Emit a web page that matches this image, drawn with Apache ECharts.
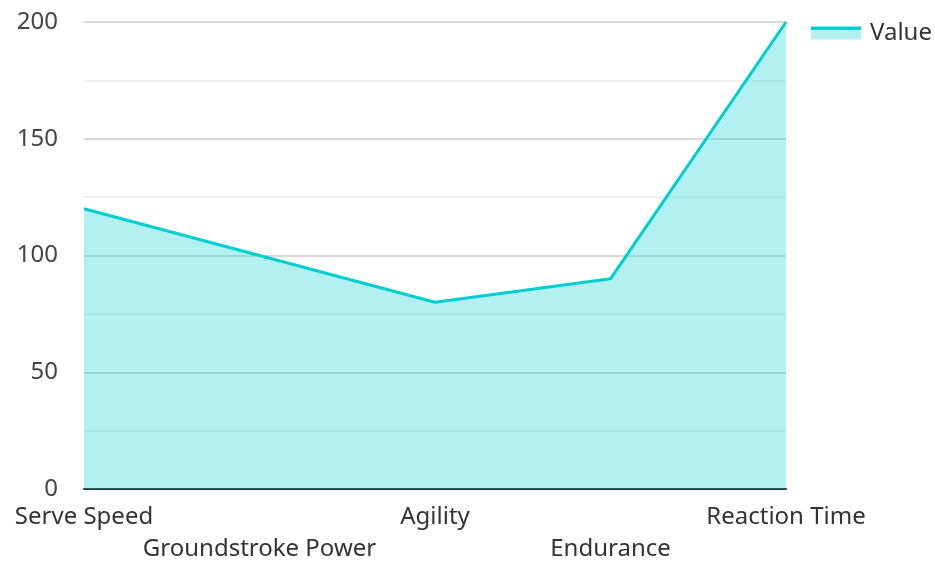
<!DOCTYPE html>
<html>
<head>
<meta charset="utf-8">
<script src="https://cdn.jsdelivr.net/npm/echarts@6/dist/echarts.min.js"></script>
<style>html,body{margin:0;padding:0;background:#fff}#c{width:935px;height:561px}</style>
</head>
<body>
<div id="c"></div>
<script>
const categories = ['Serve Speed', 'Groundstroke Power', 'Agility', 'Endurance', 'Reaction Time'];
const values = [120, 100, 80, 90, 200];
const seriesName = 'Value';

const chart = echarts.init(document.getElementById('c'), null, {renderer: 'canvas'});
const lineColor = '#00CED1';
const fillColor = '#b2f0f0';
chart.setOption({
  animation: false,
  textStyle: {fontFamily: 'Noto Sans'},
  grid: {left: 84, right: 149, top: 22, bottom: 72, containLabel: false, outerBoundsMode: 'none'},
  legend: {
    data: [seriesName],
    left: 811,
    top: 21,
    padding: 0,
    itemWidth: 50,
    itemHeight: 13,
    itemGap: 10,
    icon: 'path://M0,0H50V13H0Z',
    itemStyle: {
      color: new echarts.graphic.LinearGradient(0, 0, 0, 1, [
        {offset: 0, color: lineColor},
        {offset: 0.24, color: lineColor},
        {offset: 0.24, color: fillColor},
        {offset: 1, color: fillColor}
      ]),
      borderWidth: 0
    },
    lineStyle: {width: 0},
    textStyle: {fontSize: 24, color: '#333', fontFamily: 'Noto Sans', padding: [0, 0, 10, 4]}
  },
  xAxis: {
    type: 'category',
    data: categories,
    boundaryGap: false,
    axisLine: {lineStyle: {color: '#333', width: 2}},
    axisTick: {show: false},
    axisLabel: {
      interval: 0,
      fontSize: 24,
      color: '#333',
      lineHeight: 32,
      margin: 12,
      formatter: function (v, i) { return i % 2 === 1 ? '\n' + v : v; }
    }
  },
  yAxis: {
    type: 'value',
    min: 0,
    max: 200,
    interval: 50,
    axisLine: {show: false},
    axisTick: {show: false},
    axisLabel: {fontSize: 24, color: '#444', margin: 26},
    splitLine: {lineStyle: {color: '#ccc', width: 1.5}},
    minorTick: {show: false, splitNumber: 2},
    minorSplitLine: {show: true, lineStyle: {color: '#ebebeb', width: 1.5}}
  },
  series: [{
    name: seriesName,
    type: 'line',
    data: values,
    symbol: 'none',
    lineStyle: {color: lineColor, width: 3},
    itemStyle: {color: lineColor},
    areaStyle: {color: lineColor, opacity: 0.3}
  }]
});
</script>
</body>
</html>
